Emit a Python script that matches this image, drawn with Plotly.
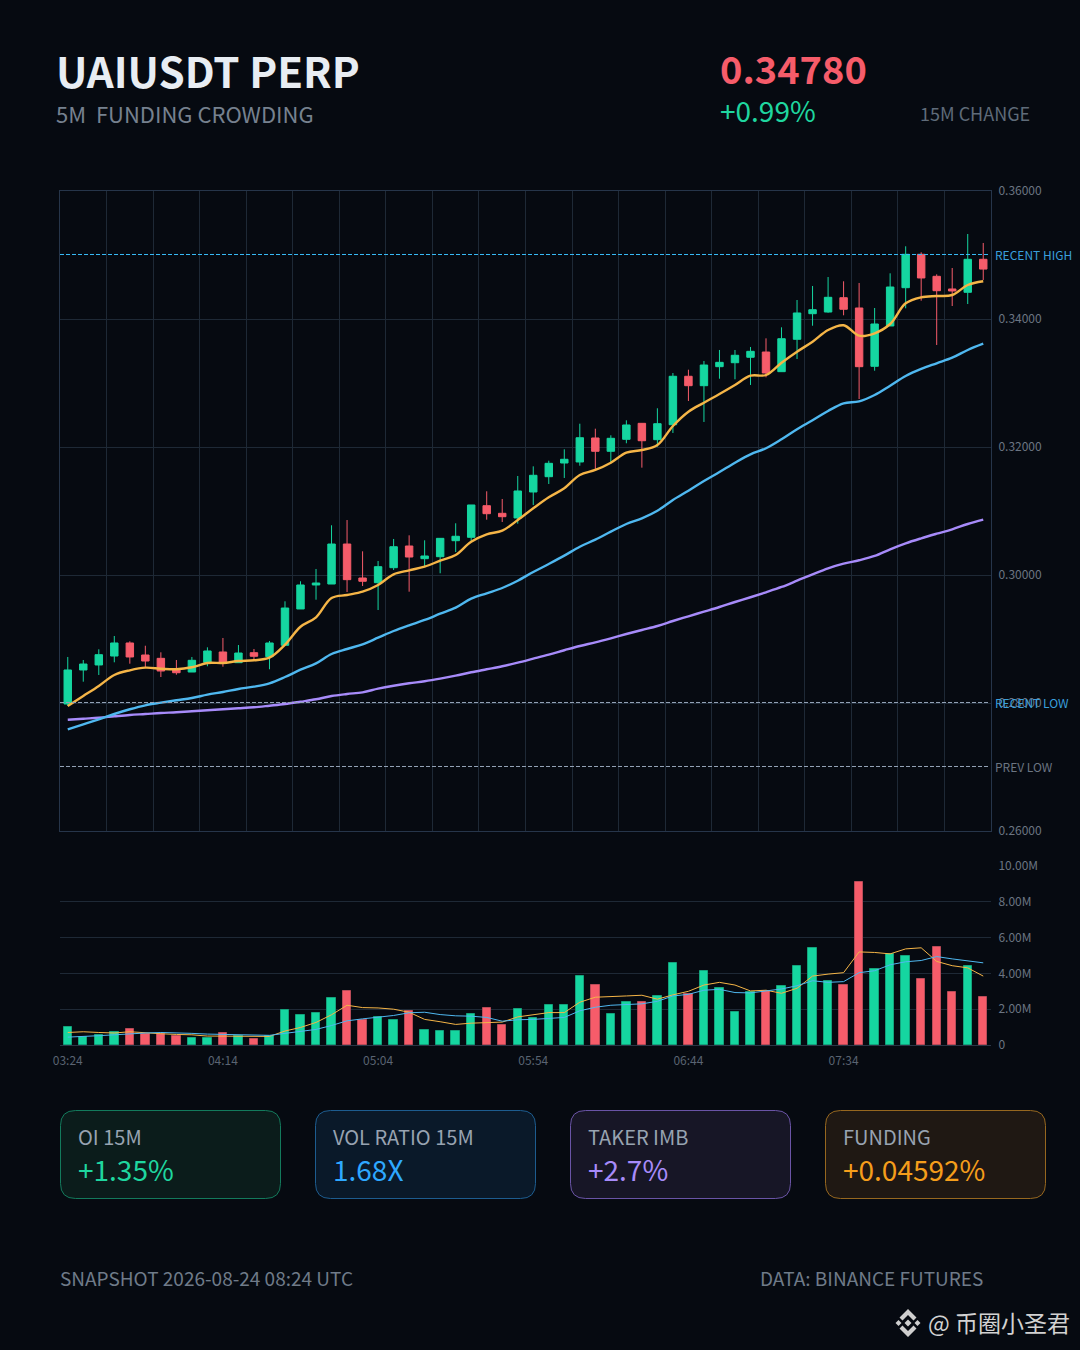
import plotly.graph_objects as go
from plotly.subplots import make_subplots

W, H = 1080, 1350
# plot area in page pixels, the margins below keep text from pushing it around
LEFT, RIGHT, TOP, BOTTOM = 60, 991, 191, 1045
FONT = "Noto Sans CJK SC"
BG = "#060a11"
GREEN = "#15d6a0"
RED = "#f65c6a"
GRID = "#1e2936"

# 5m candles, one value per bar
opens = [0.27984, 0.28516, 0.28594, 0.28734, 0.28938, 0.28750, 0.28698, 0.28527, 0.28484, 0.28636,
         0.28797, 0.28630, 0.28786, 0.28724, 0.28902, 0.29469, 0.29844, 0.29859, 0.30484, 0.29953,
         0.29880, 0.30114, 0.30453, 0.30255, 0.30286, 0.30536, 0.30589, 0.31083, 0.30964, 0.30891,
         0.31297, 0.31536, 0.31750, 0.31766, 0.32141, 0.31933, 0.32120, 0.32370, 0.32114, 0.32348,
         0.33105, 0.32958, 0.33255, 0.33317, 0.33402, 0.33484, 0.33177, 0.33683, 0.34083, 0.34109,
         0.34333, 0.34172, 0.33261, 0.33891, 0.34489, 0.35011, 0.34667, 0.34469, 0.34417, 0.34933]
highs = [0.28719, 0.28672, 0.28839, 0.29047, 0.28964, 0.28895, 0.28792, 0.28672, 0.28719, 0.28870,
         0.29016, 0.28906, 0.28844, 0.28969, 0.29589, 0.29902, 0.30094, 0.30777, 0.30859, 0.30370,
         0.30219, 0.30563, 0.30620, 0.30542, 0.30578, 0.30808, 0.31094, 0.31308, 0.31188, 0.31547,
         0.31698, 0.31786, 0.31964, 0.32364, 0.32286, 0.32183, 0.32417, 0.32375, 0.32605, 0.33156,
         0.33208, 0.33344, 0.33516, 0.33516, 0.33563, 0.33698, 0.33870, 0.34297, 0.34516, 0.34656,
         0.34589, 0.34563, 0.34172, 0.34714, 0.35136, 0.35042, 0.34698, 0.34797, 0.35328, 0.35188]
lows = [0.27953, 0.28333, 0.28438, 0.28636, 0.28614, 0.28552, 0.28406, 0.28442, 0.28484, 0.28574,
        0.28567, 0.28630, 0.28672, 0.28527, 0.28902, 0.29469, 0.29614, 0.29859, 0.29734, 0.29828,
        0.29453, 0.30078, 0.29739, 0.30130, 0.30027, 0.30359, 0.30520, 0.30864, 0.30828, 0.30802,
        0.31094, 0.31422, 0.31516, 0.31708, 0.31652, 0.31755, 0.32058, 0.31677, 0.32005, 0.32219,
        0.32719, 0.32391, 0.33067, 0.33058, 0.32969, 0.33089, 0.33177, 0.33375, 0.33895, 0.34098,
        0.34058, 0.32750, 0.33192, 0.33891, 0.34167, 0.34286, 0.33594, 0.34203, 0.34234, 0.34609]
closes = [0.28516, 0.28609, 0.28755, 0.28938, 0.28719, 0.28656, 0.28500, 0.28473, 0.28667, 0.28813,
          0.28630, 0.28781, 0.28730, 0.28938, 0.29484, 0.29844, 0.29875, 0.30484, 0.29927, 0.29902,
          0.30130, 0.30442, 0.30281, 0.30297, 0.30573, 0.30605, 0.31094, 0.30958, 0.30911, 0.31313,
          0.31558, 0.31745, 0.31808, 0.32145, 0.31933, 0.32136, 0.32344, 0.32098, 0.32364, 0.33105,
          0.32958, 0.33281, 0.33323, 0.33433, 0.33495, 0.33156, 0.33692, 0.34094, 0.34145, 0.34339,
          0.34152, 0.33255, 0.33922, 0.34500, 0.35011, 0.34641, 0.34442, 0.34438, 0.34933, 0.34780]

ema_fast = [0.27953, 0.28109, 0.28266, 0.28438, 0.28511, 0.28552, 0.28536, 0.28527, 0.28558, 0.28625,
            0.28625, 0.28656, 0.28667, 0.28708, 0.28911, 0.29192, 0.29339, 0.29641, 0.29688, 0.29739,
            0.29844, 0.30011, 0.30073, 0.30130, 0.30224, 0.30313, 0.30520, 0.30636, 0.30692, 0.30859,
            0.31042, 0.31214, 0.31355, 0.31563, 0.31641, 0.31755, 0.31911, 0.31953, 0.32031, 0.32328,
            0.32552, 0.32692, 0.32828, 0.32969, 0.33114, 0.33125, 0.33317, 0.33489, 0.33645, 0.33828,
            0.33902, 0.33739, 0.33777, 0.33922, 0.34245, 0.34339, 0.34359, 0.34375, 0.34531, 0.34589]
ema_mid = [0.27589, 0.27667, 0.27745, 0.27828, 0.27902, 0.27964, 0.28005, 0.28042, 0.28078, 0.28130,
           0.28172, 0.28219, 0.28255, 0.28308, 0.28406, 0.28520, 0.28620, 0.28766, 0.28844, 0.28917,
           0.29020, 0.29125, 0.29214, 0.29297, 0.29395, 0.29489, 0.29630, 0.29714, 0.29797, 0.29911,
           0.30047, 0.30172, 0.30302, 0.30442, 0.30552, 0.30677, 0.30797, 0.30886, 0.31005, 0.31172,
           0.31317, 0.31469, 0.31609, 0.31755, 0.31886, 0.31980, 0.32120, 0.32277, 0.32417, 0.32563,
           0.32683, 0.32714, 0.32813, 0.32958, 0.33109, 0.33219, 0.33308, 0.33395, 0.33516, 0.33614]
ema_slow = [0.27739, 0.27755, 0.27770, 0.27792, 0.27813, 0.27828, 0.27844, 0.27855, 0.27870, 0.27886,
            0.27902, 0.27917, 0.27933, 0.27958, 0.27984, 0.28020, 0.28058, 0.28109, 0.28141, 0.28167,
            0.28224, 0.28270, 0.28308, 0.28339, 0.28380, 0.28427, 0.28480, 0.28527, 0.28574, 0.28630,
            0.28692, 0.28755, 0.28824, 0.28891, 0.28948, 0.29011, 0.29078, 0.29141, 0.29203, 0.29281,
            0.29355, 0.29427, 0.29500, 0.29578, 0.29652, 0.29730, 0.29813, 0.29911, 0.30011, 0.30105,
            0.30177, 0.30230, 0.30297, 0.30402, 0.30495, 0.30573, 0.30645, 0.30714, 0.30797, 0.30864]

# volume in millions
volume = [1.02, 0.43, 0.56, 0.72, 0.91, 0.59, 0.59, 0.52, 0.39, 0.41,
          0.67, 0.48, 0.33, 0.50, 1.96, 1.69, 1.78, 2.61, 3.00, 1.41,
          1.56, 1.37, 1.89, 0.83, 0.81, 0.80, 1.74, 2.04, 1.11, 2.00,
          1.50, 2.22, 2.26, 3.85, 3.33, 1.72, 2.43, 2.39, 2.72, 4.59,
          2.83, 4.11, 3.20, 1.87, 2.98, 3.02, 3.31, 4.39, 5.44, 3.59,
          3.37, 9.09, 4.24, 5.11, 4.96, 3.67, 5.48, 2.94, 4.44, 2.69]
vol_ma_fast = [0.70, 0.74, 0.70, 0.67, 0.74, 0.67, 0.63, 0.59, 0.57, 0.50,
               0.50, 0.50, 0.46, 0.48, 0.78, 0.98, 1.26, 1.69, 2.22, 2.09,
               2.07, 2.00, 1.83, 1.43, 1.30, 1.15, 1.22, 1.26, 1.28, 1.57,
               1.70, 1.81, 1.81, 2.39, 2.67, 2.69, 2.74, 2.78, 2.56, 2.80,
               3.00, 3.35, 3.50, 3.35, 3.02, 3.06, 2.89, 3.17, 3.85, 3.96,
               4.04, 5.20, 5.17, 5.09, 5.37, 5.43, 4.67, 4.43, 4.31, 3.85]
vol_ma_slow = [0.44, 0.46, 0.52, 0.57, 0.63, 0.67, 0.70, 0.69, 0.65, 0.61,
               0.59, 0.57, 0.56, 0.54, 0.65, 0.76, 0.87, 1.09, 1.35, 1.46,
               1.54, 1.65, 1.80, 1.83, 1.70, 1.63, 1.61, 1.54, 1.33, 1.41,
               1.43, 1.48, 1.54, 1.91, 2.11, 2.22, 2.28, 2.30, 2.44, 2.74,
               2.83, 3.06, 3.11, 2.93, 2.91, 3.04, 3.13, 3.31, 3.59, 3.50,
               3.54, 4.04, 4.15, 4.48, 4.65, 4.72, 4.94, 4.81, 4.70, 4.59]

time_labels = ["03:24", "04:14", "05:04", "05:54", "06:44", "07:34"]
price_ticks = [0.26, 0.28, 0.30, 0.32, 0.34, 0.36]
volume_ticks = [0, 2, 4, 6, 8, 10]
volume_tick_labels = ["0", "2.00M", "4.00M", "6.00M", "8.00M", "10.00M"]

level_names = ["RECENT HIGH", "RECENT LOW", "PREV LOW"]
level_values = [0.35, 0.28, 0.27]
level_line_colors = ["#38bdf8", "#94a3b8", "#94a3b8"]
level_text_colors = ["#3a9fdc", "#3a9fdc", "#6b7582"]

card_labels = ["OI 15M", "VOL RATIO 15M", "TAKER IMB", "FUNDING"]
card_values = ["+1.35%", "1.68X", "+2.7%", "+0.04592%"]
card_colors = ["#1fd69f", "#2ea8ff", "#a78bfa", "#f59e1b"]
card_fills = ["#0b1c1b", "#0a1929", "#171626", "#1f1813"]
card_borders = ["#137a5c", "#1d5c8f", "#6a54a6", "#96671f"]
card_lefts = [60.5, 315.5, 570.5, 825.5]


def px(x):
    return (x - LEFT) / (RIGHT - LEFT)


def py(y):
    return (BOTTOM - y) / (BOTTOM - TOP)


def label(x, y, text, size, color, anchor="left", weight=400):
    # annotation boxes sit about 1px right and 2px low of the spot asked for
    fig.add_annotation(
        x=px(x - 1), y=py(y - 2), xref="paper", yref="paper", text=text, showarrow=False,
        xanchor=anchor, yanchor="middle", borderpad=0,
        font=dict(family=FONT, size=size, color=color, weight=weight),
    )


def poly(points, color):
    path = "M " + " L ".join(f"{px(a)},{py(b)}" for a, b in points) + " Z"
    fig.add_shape(type="path", path=path, xref="paper", yref="paper",
                  fillcolor=color, line_width=0, layer="above")


def round_rect(x0, y0, x1, y1, r):
    return (
        f"M {px(x0 + r)},{py(y0)} L {px(x1 - r)},{py(y0)} Q {px(x1)},{py(y0)} {px(x1)},{py(y0 + r)} "
        f"L {px(x1)},{py(y1 - r)} Q {px(x1)},{py(y1)} {px(x1 - r)},{py(y1)} "
        f"L {px(x0 + r)},{py(y1)} Q {px(x0)},{py(y1)} {px(x0)},{py(y1 - r)} "
        f"L {px(x0)},{py(y0 + r)} Q {px(x0)},{py(y0)} {px(x0 + r)},{py(y0)} Z"
    )


bars = list(range(len(closes)))
bar_colors = [GREEN if c >= o else RED for o, c in zip(opens, closes)]
bar_edges = ["#14a37c" if c >= o else "#b94b58" for o, c in zip(opens, closes)]

fig = make_subplots(rows=2, cols=1)

fig.add_trace(
    go.Candlestick(
        x=bars, open=opens, high=highs, low=lows, close=closes,
        increasing=dict(fillcolor=GREEN, line=dict(color=GREEN, width=1)),
        decreasing=dict(fillcolor=RED, line=dict(color=RED, width=1)),
        whiskerwidth=0,
    ),
    row=1, col=1,
)
for values, color in [(ema_slow, "#a78bfa"), (ema_mid, "#4fb8f0"), (ema_fast, "#f5b547")]:
    fig.add_trace(
        go.Scatter(x=bars, y=values, mode="lines",
                   line=dict(color=color, width=2.4, shape="spline", smoothing=1)),
        row=1, col=1,
    )

fig.add_trace(
    go.Bar(x=bars, y=volume, width=0.54, marker=dict(color=bar_colors, line=dict(color=bar_edges, width=1))),
    row=2, col=1,
)
fig.add_trace(go.Scatter(x=bars, y=vol_ma_fast, mode="lines", line=dict(color="#f5b547", width=1)), row=2, col=1)
fig.add_trace(go.Scatter(x=bars, y=vol_ma_slow, mode="lines", line=dict(color="#4fb8f0", width=1)), row=2, col=1)

fig.update_layout(
    width=W, height=H, autosize=False,
    margin=dict(l=LEFT, r=W - RIGHT, t=TOP, b=H - BOTTOM, pad=0),
    paper_bgcolor=BG, plot_bgcolor=BG,
    showlegend=False, boxgap=0.52, boxgroupgap=0, bargap=0,
    font=dict(family=FONT, color="#6b7582", size=12),
)

fig.update_xaxes(
    domain=[0, 1], range=[-0.5, 59.5], showgrid=True, gridcolor=GRID, gridwidth=1,
    zeroline=False, rangeslider_visible=False,
)
fig.update_xaxes(
    row=1, col=1, tickmode="array", tickvals=[b * 3 - 0.5 for b in range(21)], showticklabels=False,
    ticks="", showline=True, linecolor="#26354a", linewidth=1, mirror=True,
)
fig.update_xaxes(
    row=2, col=1, showgrid=False, tickmode="array", tickvals=bars[::10][:len(time_labels)], ticktext=time_labels,
    showline=True, linecolor="#2a3646", linewidth=1, ticks="outside", ticklen=5, tickcolor=BG,
    tickfont=dict(family=FONT, size=12, color="#5a6472"),
)
fig.update_yaxes(
    row=1, col=1, domain=[py(831), py(191)], range=[0.26, 0.36], side="right", tickmode="array",
    tickvals=price_ticks, ticktext=[f"{t:.5f}" for t in price_ticks], gridcolor=GRID, gridwidth=1, zeroline=False,
    ticks="outside", ticklen=4, tickcolor=BG, showline=True, linecolor="#26354a", mirror=True,
    tickfont=dict(family=FONT, size=12, color="#6b7582"),
)
fig.update_yaxes(
    row=2, col=1, domain=[py(1045), py(866)], range=[0, 10], side="right", tickmode="array",
    tickvals=volume_ticks, ticktext=volume_tick_labels, gridcolor=GRID, gridwidth=1, zeroline=False,
    ticks="outside", ticklen=4, tickcolor=BG, showline=False,
    tickfont=dict(family=FONT, size=12, color="#6b7582"),
)

# support / resistance levels, nudged half a pixel so the dashes stay crisp
for name, value, line_color, text_color in zip(level_names, level_values, level_line_colors, level_text_colors):
    fig.add_shape(type="line", x0=px(60), x1=px(990), xref="paper", y0=value + 0.00008, y1=value + 0.00008, yref="y",
                  line=dict(color=line_color, width=1, dash="4px,2px"))
    fig.add_annotation(x=px(994), y=value, xref="paper", yref="y", text=name, showarrow=False, xanchor="left",
                       yanchor="middle", yshift=1, borderpad=0, font=dict(family=FONT, size=12, color=text_color))

# header
label(56, 71, "UAIUSDT PERP", 42, "#e8edf3", weight=700)
label(56, 115, "5M\u00a0\u00a0FUNDING CROWDING", 22, "#76818f")
label(720, 69, "0.34780", 38, "#f65c6a", weight=700)
label(720, 112, "+0.99%", 28, "#1fd69f")
label(920, 115, "15M CHANGE", 18, "#5f6b79")

# stat cards
for left, name, value, color, fill, border in zip(card_lefts, card_labels, card_values, card_colors, card_fills, card_borders):
    fig.add_shape(type="path", path=round_rect(left, 1110.5, left + 220, 1198.5, 15), xref="paper", yref="paper",
                  fillcolor=fill, line=dict(color=border, width=1), layer="below")
    label(left + 17.5, 1138, name, 20, "#98a3b1")
    label(left + 17.5, 1171, value, 28, color)

# footer
label(60, 1279, "SNAPSHOT 2026-08-24 08:24 UTC", 19, "#6f7b89")
label(760, 1279, "DATA: BINANCE FUTURES", 19, "#6f7b89")

# watermark
mark = "#cfcfcf"
poly([(908, 1309), (916.5, 1317.5), (913.5, 1320.5), (908, 1315), (902.5, 1320.5), (899.5, 1317.5)], mark)
poly([(908, 1337), (916.5, 1328.5), (913.5, 1325.5), (908, 1331), (902.5, 1325.5), (899.5, 1328.5)], mark)
poly([(908, 1319.5), (911.5, 1323), (908, 1326.5), (904.5, 1323)], mark)
poly([(898.5, 1320), (901.5, 1323), (898.5, 1326), (895.5, 1323)], mark)
poly([(917.5, 1320), (920.5, 1323), (917.5, 1326), (914.5, 1323)], mark)
label(928, 1324, "@ 币圈小圣君", 23, "#d2d2d2")

fig.write_html(
    "out.html",
    config=dict(displayModeBar=False),
    post_script=f"document.body.style.margin='0';document.body.style.background='{BG}';",
)
